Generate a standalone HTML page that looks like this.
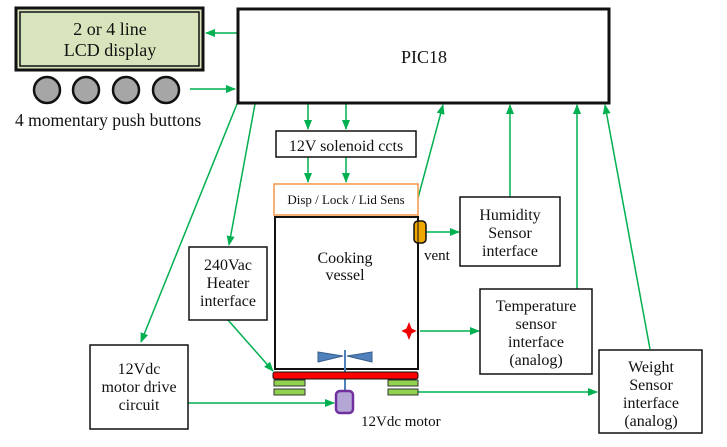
<!DOCTYPE html>
<html><head><meta charset="utf-8"><style>body{margin:0;background:#fff}svg{display:block}svg text{font-family:"Liberation Serif","DejaVu Serif","Times New Roman",serif;fill:#111}</style></head><body>
<svg width="727" height="447" viewBox="0 0 727 447" xmlns="http://www.w3.org/2000/svg" font-family="Liberation Serif, DejaVu Serif, serif">
<defs><marker id="a" markerWidth="10" markerHeight="8" refX="9" refY="4" orient="auto" markerUnits="userSpaceOnUse"><path d="M0,0 L10,4 L0,8 z" fill="#00b050"/></marker></defs>
<g stroke="#00b050" stroke-width="1.5" fill="none">
<line x1="237" y1="33" x2="206" y2="33" marker-end="url(#a)"/>
<line x1="190" y1="89" x2="235" y2="89" marker-end="url(#a)"/>
<line x1="237" y1="104" x2="141" y2="342" marker-end="url(#a)"/>
<line x1="255" y1="104" x2="229" y2="245" marker-end="url(#a)"/>
<line x1="308" y1="104" x2="308" y2="129" marker-end="url(#a)"/>
<line x1="346" y1="104" x2="346" y2="129" marker-end="url(#a)"/>
<line x1="308" y1="157" x2="308" y2="182" marker-end="url(#a)"/>
<line x1="346" y1="157" x2="346" y2="182" marker-end="url(#a)"/>
<line x1="418" y1="198" x2="443" y2="105" marker-end="url(#a)"/>
<line x1="510" y1="197" x2="510" y2="105" marker-end="url(#a)"/>
<line x1="577" y1="289" x2="577" y2="105" marker-end="url(#a)"/>
<line x1="650" y1="349" x2="605" y2="105" marker-end="url(#a)"/>
<line x1="426" y1="232" x2="459" y2="232" marker-end="url(#a)"/>
<line x1="420" y1="331" x2="479" y2="331" marker-end="url(#a)"/>
<line x1="418" y1="392" x2="597" y2="392" marker-end="url(#a)"/>
<line x1="188" y1="403" x2="334" y2="403" marker-end="url(#a)"/>
<line x1="228" y1="320" x2="273" y2="371" marker-end="url(#a)"/>
</g>
<rect x="16" y="8" width="187" height="62" fill="#d8e4bc" stroke="#111" stroke-width="3"/>
<rect x="20" y="12" width="179" height="54" fill="none" stroke="#111" stroke-width="1.5"/>
<text x="110" y="35" font-size="18" text-anchor="middle">2 or 4 line</text>
<text x="110" y="56" font-size="18" text-anchor="middle">LCD display</text>
<g fill="#a6a6a6" stroke="#111" stroke-width="2.5"><circle cx="47" cy="90" r="13"/><circle cx="86" cy="90" r="13"/><circle cx="126" cy="90" r="13"/><circle cx="166" cy="90" r="13"/></g>
<text x="15" y="126" font-size="17.5">4 momentary push buttons</text>
<rect x="238" y="9" width="371" height="94" fill="#fff" stroke="#111" stroke-width="3"/>
<text x="424" y="63" font-size="18" text-anchor="middle">PIC18</text>
<rect x="276" y="131" width="140" height="26" fill="#fff" stroke="#111" stroke-width="1.5"/>
<text x="346" y="151" font-size="16" text-anchor="middle">12V solenoid ccts</text>
<rect x="274" y="184" width="144" height="31" fill="#fff" stroke="#f79646" stroke-width="1.5"/>
<text x="346" y="204" font-size="13" text-anchor="middle">Disp / Lock /  Lid Sens</text>
<rect x="275" y="217" width="143" height="152" fill="#fff" stroke="#111" stroke-width="2"/>
<text x="345" y="263" font-size="16" text-anchor="middle">Cooking</text>
<text x="345" y="280" font-size="16" text-anchor="middle">vessel</text>
<rect x="414" y="221" width="12" height="22" rx="4" fill="#f0a800" stroke="#111" stroke-width="1.5"/>
<line x1="418" y1="221" x2="418" y2="243" stroke="#111" stroke-width="1"/>
<text x="424" y="260" font-size="15">vent</text>
<path d="M409,324 L411,329 L415,331 L411,333 L409,338 L407,333 L403,331 L407,329 z" fill="#e00" stroke="#e00" stroke-width="1.5"/>
<path d="M318,352 L343,356 L318,362 z M372,352 L347,356 L372,362 z" fill="#4f81bd" stroke="#385d8a"/>
<line x1="345" y1="350" x2="345" y2="391" stroke="#4f81bd" stroke-width="2"/>
<rect x="273" y="372" width="145" height="7" rx="2" fill="#f00" stroke="#111" stroke-width="1"/>
<g fill="#92d050" stroke="#333" stroke-width="1"><rect x="274" y="380" width="31" height="6"/><rect x="274" y="389" width="31" height="6"/><rect x="388" y="380" width="30" height="6"/><rect x="388" y="389" width="30" height="6"/></g>
<rect x="336" y="391" width="17" height="22" rx="4" fill="#b4a7d6" stroke="#7030a0" stroke-width="2.5"/>
<text x="361" y="426" font-size="15">12Vdc motor</text>
<rect x="460" y="197" width="100" height="69" fill="#fff" stroke="#111" stroke-width="1.5"/>
<g font-size="16" text-anchor="middle"><text x="510" y="220">Humidity</text><text x="510" y="238">Sensor</text><text x="510" y="256">interface</text></g>
<rect x="480" y="289" width="112" height="85" fill="#fff" stroke="#111" stroke-width="1.5"/>
<g font-size="16" text-anchor="middle"><text x="536" y="311">Temperature</text><text x="536" y="329">sensor</text><text x="536" y="347">interface</text><text x="536" y="365">(analog)</text></g>
<rect x="599" y="350" width="103" height="83" fill="#fff" stroke="#111" stroke-width="1.5"/>
<g font-size="16" text-anchor="middle"><text x="651" y="372">Weight</text><text x="651" y="390">Sensor</text><text x="651" y="408">interface</text><text x="651" y="426">(analog)</text></g>
<rect x="189" y="247" width="78" height="73" fill="#fff" stroke="#111" stroke-width="1.5"/>
<g font-size="16" text-anchor="middle"><text x="228" y="270">240Vac</text><text x="228" y="288">Heater</text><text x="228" y="306">interface</text></g>
<rect x="90" y="345" width="98" height="84" fill="#fff" stroke="#111" stroke-width="1.5"/>
<g font-size="16" text-anchor="middle"><text x="139" y="374">12Vdc</text><text x="139" y="392">motor drive</text><text x="139" y="410">circuit</text></g>
</svg>
</body></html>
